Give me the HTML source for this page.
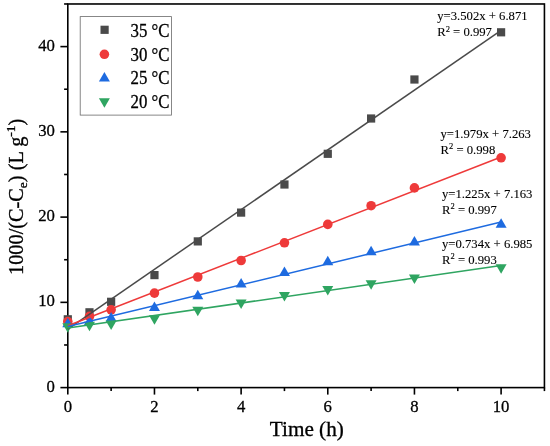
<!DOCTYPE html>
<html lang="en"><head><meta charset="utf-8"><title>Kinetics plot</title>
<style>
html,body{margin:0;padding:0;background:#fff;}
body{width:550px;height:446px;overflow:hidden;}
svg{display:block;font-family:"Liberation Serif","DejaVu Serif",serif;fill:#000;}
text{stroke:#000;stroke-width:0.3px;}
.eq{stroke-width:0.1px;}
.tick{font-size:17.6px;}
.ttl{font-size:20.3px;}
.eq{font-size:12.7px;}
.lg{font-size:18px;}
</style></head><body>
<svg width="550" height="446" viewBox="0 0 550 446">
<rect width="550" height="446" fill="#fff"/>
<g stroke="#000" stroke-width="1.6" fill="none">
<rect x="67.8" y="3.98" width="476.63" height="383.62"/>
<line x1="67.8" y1="387.6" x2="67.8" y2="394.6"/>
<line x1="111.13" y1="387.6" x2="111.13" y2="391.1"/>
<line x1="154.46" y1="387.6" x2="154.46" y2="394.6"/>
<line x1="197.79" y1="387.6" x2="197.79" y2="391.1"/>
<line x1="241.12" y1="387.6" x2="241.12" y2="394.6"/>
<line x1="284.45" y1="387.6" x2="284.45" y2="391.1"/>
<line x1="327.78" y1="387.6" x2="327.78" y2="394.6"/>
<line x1="371.11" y1="387.6" x2="371.11" y2="391.1"/>
<line x1="414.44" y1="387.6" x2="414.44" y2="394.6"/>
<line x1="457.77" y1="387.6" x2="457.77" y2="391.1"/>
<line x1="501.1" y1="387.6" x2="501.1" y2="394.6"/>
<line x1="544.43" y1="387.6" x2="544.43" y2="391.1"/>
<line x1="67.8" y1="387.6" x2="60.4" y2="387.6"/>
<line x1="67.8" y1="344.98" x2="64.1" y2="344.98"/>
<line x1="67.8" y1="302.35" x2="60.4" y2="302.35"/>
<line x1="67.8" y1="259.73" x2="64.1" y2="259.73"/>
<line x1="67.8" y1="217.1" x2="60.4" y2="217.1"/>
<line x1="67.8" y1="174.48" x2="64.1" y2="174.48"/>
<line x1="67.8" y1="131.85" x2="60.4" y2="131.85"/>
<line x1="67.8" y1="89.23" x2="64.1" y2="89.23"/>
<line x1="67.8" y1="46.6" x2="60.4" y2="46.6"/>
<line x1="67.8" y1="3.98" x2="64.1" y2="3.98"/>
</g>
<g>
<rect x="63.7" y="315.2" width="8.2" height="8.2" fill="#4a4a4a"/>
<rect x="85.37" y="308.2" width="8.2" height="8.2" fill="#4a4a4a"/>
<rect x="107.03" y="297.7" width="8.2" height="8.2" fill="#4a4a4a"/>
<rect x="150.36" y="271" width="8.2" height="8.2" fill="#4a4a4a"/>
<rect x="193.69" y="237.3" width="8.2" height="8.2" fill="#4a4a4a"/>
<rect x="237.02" y="208.5" width="8.2" height="8.2" fill="#4a4a4a"/>
<rect x="280.35" y="180.4" width="8.2" height="8.2" fill="#4a4a4a"/>
<rect x="323.68" y="149.7" width="8.2" height="8.2" fill="#4a4a4a"/>
<rect x="367.01" y="114.4" width="8.2" height="8.2" fill="#4a4a4a"/>
<rect x="410.34" y="75.4" width="8.2" height="8.2" fill="#4a4a4a"/>
<rect x="497" y="28.2" width="8.2" height="8.2" fill="#4a4a4a"/>
<circle cx="67.8" cy="321.6" r="4.8" fill="#ee3a3a"/>
<circle cx="89.47" cy="316.4" r="4.8" fill="#ee3a3a"/>
<circle cx="111.13" cy="309.8" r="4.8" fill="#ee3a3a"/>
<circle cx="154.46" cy="293.1" r="4.8" fill="#ee3a3a"/>
<circle cx="197.79" cy="277" r="4.8" fill="#ee3a3a"/>
<circle cx="241.12" cy="260.5" r="4.8" fill="#ee3a3a"/>
<circle cx="284.45" cy="242.8" r="4.8" fill="#ee3a3a"/>
<circle cx="327.78" cy="224.4" r="4.8" fill="#ee3a3a"/>
<circle cx="371.11" cy="205.7" r="4.8" fill="#ee3a3a"/>
<circle cx="414.44" cy="187.9" r="4.8" fill="#ee3a3a"/>
<circle cx="501.1" cy="157.8" r="4.8" fill="#ee3a3a"/>
<polygon points="67.8,317.85 73.3,327.35 62.3,327.35" fill="#1e6be0"/>
<polygon points="89.47,315.55 94.97,325.05 83.97,325.05" fill="#1e6be0"/>
<polygon points="111.13,312.05 116.63,321.55 105.63,321.55" fill="#1e6be0"/>
<polygon points="154.46,301.45 159.96,310.95 148.96,310.95" fill="#1e6be0"/>
<polygon points="197.79,289.75 203.29,299.25 192.29,299.25" fill="#1e6be0"/>
<polygon points="241.12,278.05 246.62,287.55 235.62,287.55" fill="#1e6be0"/>
<polygon points="284.45,266.55 289.95,276.05 278.95,276.05" fill="#1e6be0"/>
<polygon points="327.78,255.75 333.28,265.25 322.28,265.25" fill="#1e6be0"/>
<polygon points="371.11,245.75 376.61,255.25 365.61,255.25" fill="#1e6be0"/>
<polygon points="414.44,235.95 419.94,245.45 408.94,245.45" fill="#1e6be0"/>
<polygon points="501.1,218.35 506.6,227.85 495.6,227.85" fill="#1e6be0"/>
<polygon points="67.8,332.65 73.3,323.15 62.3,323.15" fill="#2fa561"/>
<polygon points="89.47,331.25 94.97,321.75 83.97,321.75" fill="#2fa561"/>
<polygon points="111.13,329.95 116.63,320.45 105.63,320.45" fill="#2fa561"/>
<polygon points="154.46,324.85 159.96,315.35 148.96,315.35" fill="#2fa561"/>
<polygon points="197.79,316.35 203.29,306.85 192.29,306.85" fill="#2fa561"/>
<polygon points="241.12,309.05 246.62,299.55 235.62,299.55" fill="#2fa561"/>
<polygon points="284.45,301.55 289.95,292.05 278.95,292.05" fill="#2fa561"/>
<polygon points="327.78,295.45 333.28,285.95 322.28,285.95" fill="#2fa561"/>
<polygon points="371.11,289.85 376.61,280.35 365.61,280.35" fill="#2fa561"/>
<polygon points="414.44,283.95 419.94,274.45 408.94,274.45" fill="#2fa561"/>
<polygon points="501.1,273.75 506.6,264.25 495.6,264.25" fill="#2fa561"/>
</g>
<g stroke-width="1.5" fill="none">
<line x1="67.8" y1="329.02" x2="501.1" y2="30.48" stroke="#4a4a4a"/>
<line x1="67.8" y1="325.68" x2="501.1" y2="156.97" stroke="#ee3a3a"/>
<line x1="67.8" y1="326.54" x2="501.1" y2="222.1" stroke="#1e6be0"/>
<line x1="67.8" y1="328.05" x2="501.1" y2="265.48" stroke="#2fa561"/>
</g>
<g class="tick" text-anchor="middle">
<text transform="translate(67.8 412.1) scale(0.95 1)">0</text>
<text transform="translate(154.46 412.1) scale(0.95 1)">2</text>
<text transform="translate(241.12 412.1) scale(0.95 1)">4</text>
<text transform="translate(327.78 412.1) scale(0.95 1)">6</text>
<text transform="translate(414.44 412.1) scale(0.95 1)">8</text>
<text transform="translate(501.1 412.1) scale(0.95 1)">10</text>
</g><g class="tick" text-anchor="end">
<text transform="translate(54.9 391.5) scale(0.95 1)">0</text>
<text transform="translate(54.9 306.25) scale(0.95 1)">10</text>
<text transform="translate(54.9 221) scale(0.95 1)">20</text>
<text transform="translate(54.9 135.75) scale(0.95 1)">30</text>
<text transform="translate(54.9 50.5) scale(0.95 1)">40</text>
</g>
<text class="ttl" transform="translate(306.8 435.5) scale(1.045 1)" text-anchor="middle">Time (h)</text>
<text class="ttl" style="font-size:20.3px" transform="translate(22.6 196.8) rotate(-90)" text-anchor="middle">1000/(C-C<tspan font-size="13.5" dy="4.6">e</tspan><tspan dy="-4.6">) (L g</tspan><tspan font-size="13.5" dy="-7.6">-1</tspan><tspan dy="7.6">)</tspan></text>
<text class="eq" x="437.2" y="20.1">y=3.502x + 6.871</text>
<text class="eq" x="437.2" y="36">R<tspan font-size="8.5" dy="-4.5">2</tspan><tspan dy="4.5"> = 0.997</tspan></text>
<text class="eq" x="440.5" y="137.9">y=1.979x + 7.263</text>
<text class="eq" x="440.5" y="153.8">R<tspan font-size="8.5" dy="-4.5">2</tspan><tspan dy="4.5"> = 0.998</tspan></text>
<text class="eq" x="442" y="197.9">y=1.225x + 7.163</text>
<text class="eq" x="442" y="213.8">R<tspan font-size="8.5" dy="-4.5">2</tspan><tspan dy="4.5"> = 0.997</tspan></text>
<text class="eq" x="442" y="247.7">y=0.734x + 6.985</text>
<text class="eq" x="442" y="263.6">R<tspan font-size="8.5" dy="-4.5">2</tspan><tspan dy="4.5"> = 0.993</tspan></text>
<rect x="80.2" y="16.6" width="91.2" height="98.5" fill="#fff" stroke="#6a6a6a" stroke-width="0.8"/>
<rect x="100.5" y="25.7" width="8.2" height="8.2" fill="#4a4a4a"/>
<circle cx="104.4" cy="54.3" r="4.8" fill="#ee3a3a"/>
<polygon points="104.4,71.95 109.9,81.45 98.9,81.45" fill="#1e6be0"/>
<polygon points="104.4,107.75 109.9,98.25 98.9,98.25" fill="#2fa561"/>
<text class="lg" transform="translate(130.5 36.7) scale(0.935 1)">35 °C</text>
<text class="lg" transform="translate(130.5 60.5) scale(0.935 1)">30 °C</text>
<text class="lg" transform="translate(130.5 84.3) scale(0.935 1)">25 °C</text>
<text class="lg" transform="translate(130.5 108.1) scale(0.935 1)">20 °C</text>
</svg></body></html>
